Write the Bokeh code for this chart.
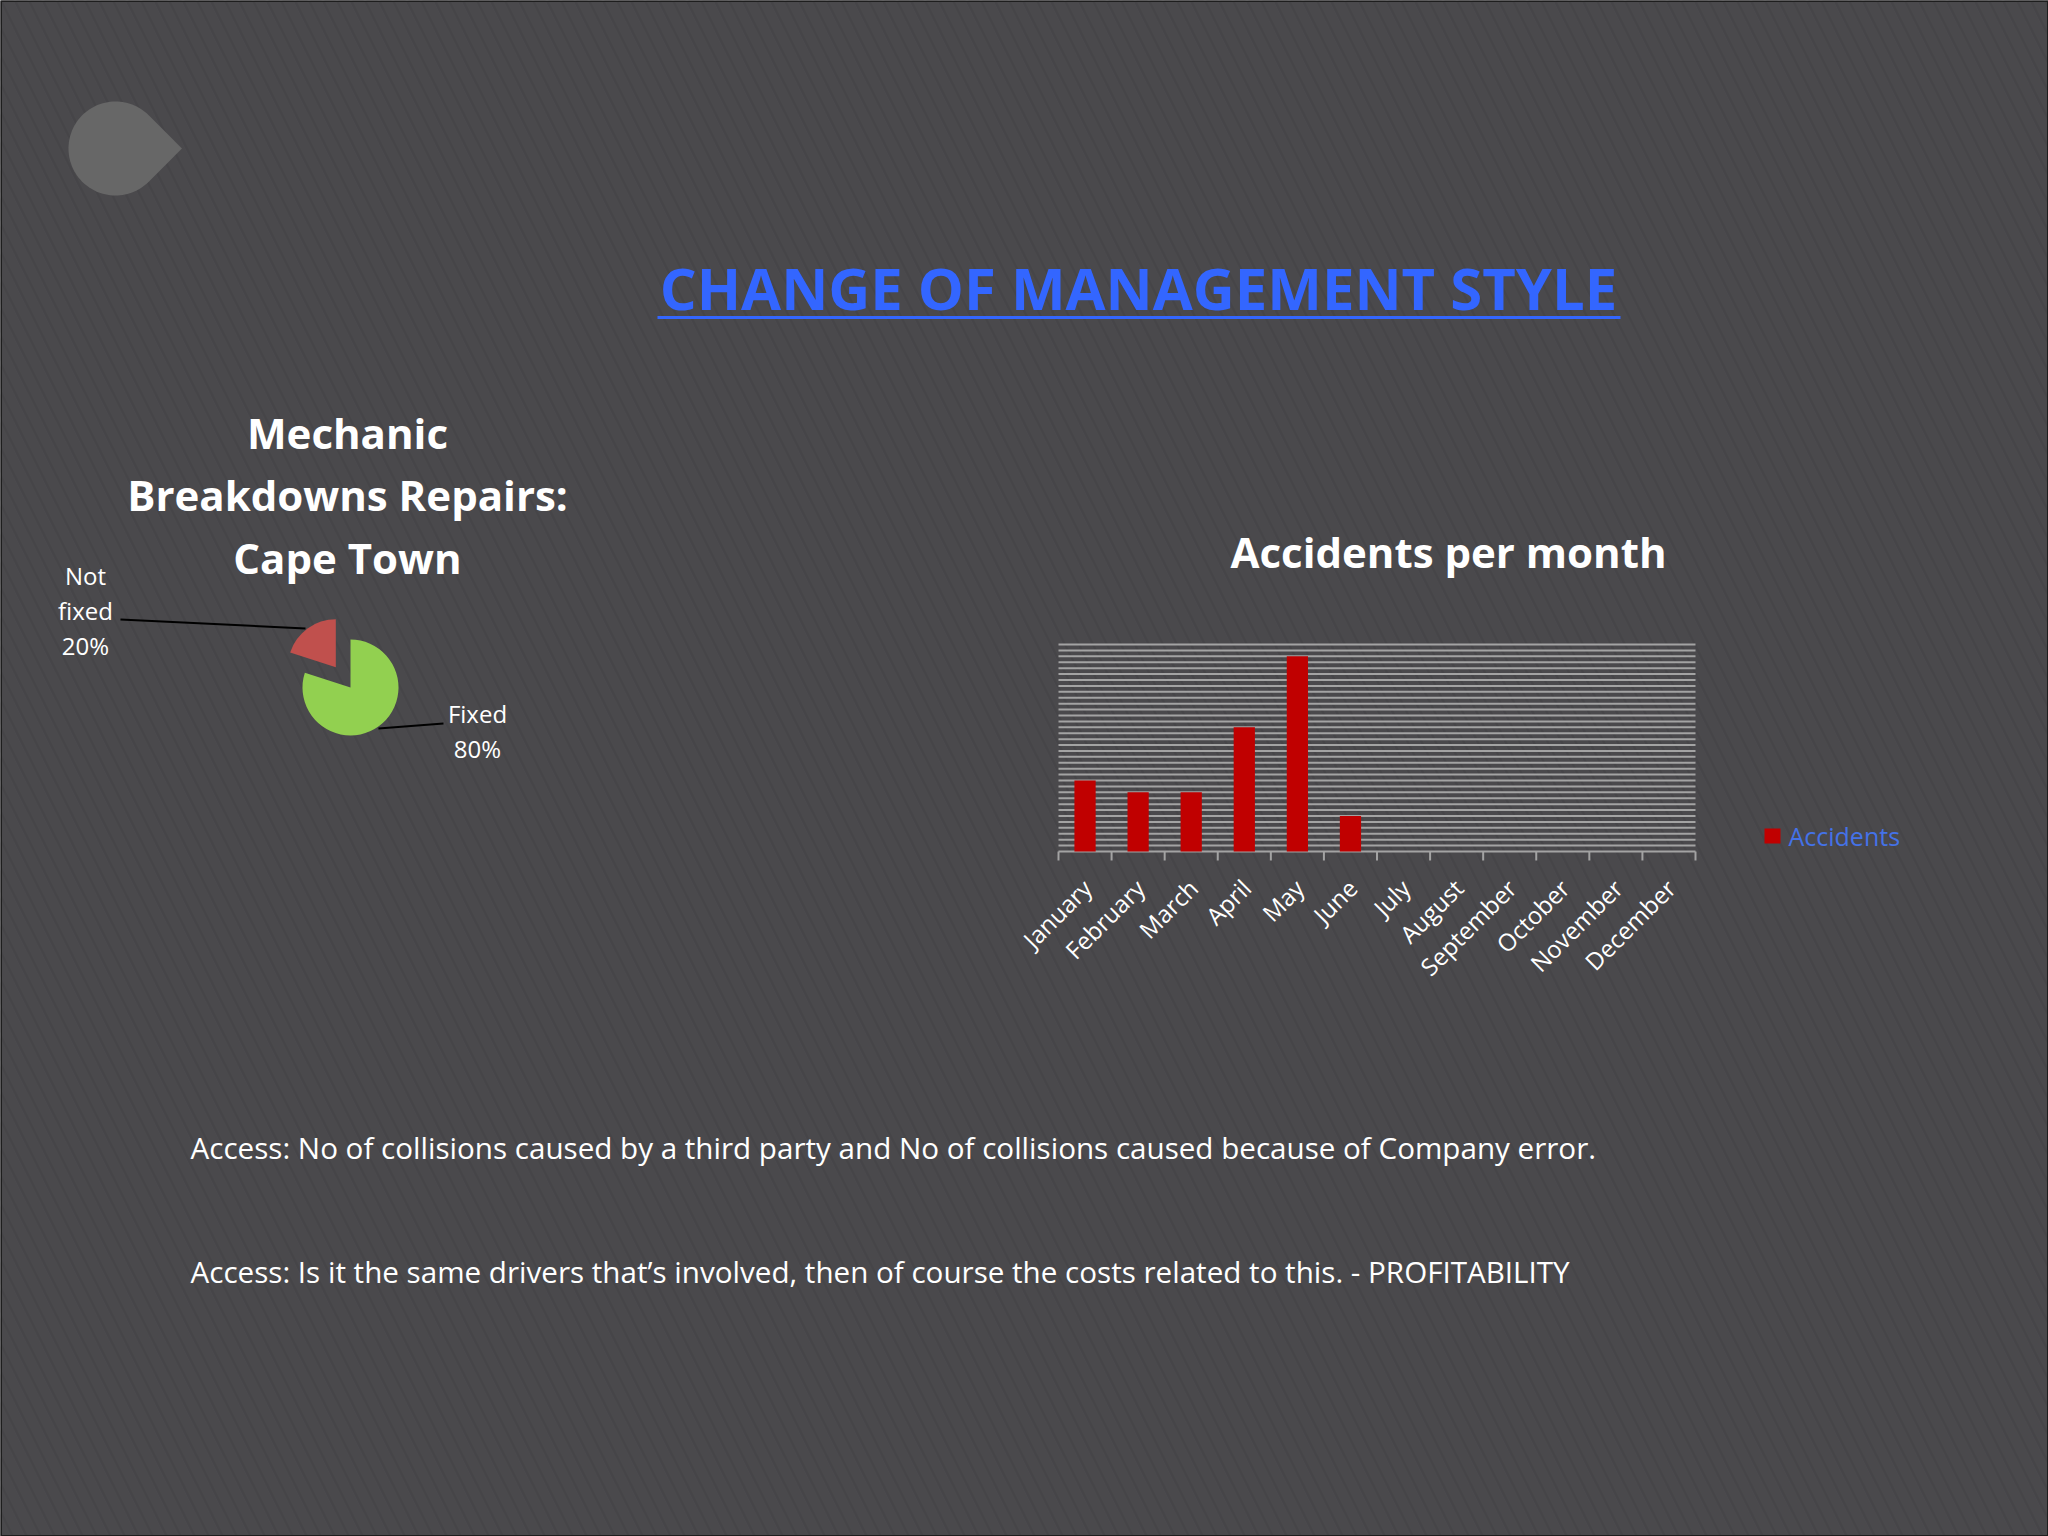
import math
import numpy as np
from bokeh.plotting import figure
from bokeh.models import Range1d
from bokeh.core.properties import value
from bokeh.embed import file_html
from bokeh.resources import INLINE

# ---------------- data ----------------
slide_title = "CHANGE OF MANAGEMENT STYLE"
pie_title_lines = ["Mechanic", "Breakdowns Repairs:", "Cape Town"]
pie_labels = ["Fixed", "Not fixed"]
pie_values = [80, 20]
pie_colors = ["#92d050", "#c0504d"]

bar_title = "Accidents per month"
series_name = "Accidents"
months = ["January", "February", "March", "April", "May", "June",
          "July", "August", "September", "October", "November", "December"]
accidents = [12, 10, 10, 21, 33, 6, 0, 0, 0, 0, 0, 0]
axis_max = 35
grid_step = 1

notes = [
    "Access: No of collisions caused by a third party and No of collisions caused because of Company error.",
    "Access: Is it the same drivers that\u2019s involved, then of course the costs related to this. - PROFITABILITY",
]

# ---------------- page geometry ----------------
W, H = 2048, 1536
FONT = value("Open Sans")
WHITE = "#ffffff"
BG = "#464548"


def X(rx):
    return rx


def Y(ry):
    return H - ry


def YB(baseline, fs):
    # place a middle-anchored text so that its baseline sits at `baseline`
    return Y(baseline - 0.42 * fs)


p = figure(width=W, height=H, x_range=Range1d(0, W), y_range=Range1d(0, H),
           x_axis_type=None, y_axis_type=None, toolbar_location=None,
           output_backend="svg", min_border=0)
p.outline_line_color = None
p.background_fill_color = BG
p.border_fill_color = BG

# subtle diagonal texture + dark frame
p.quad(left=[0], right=[W], bottom=[0], top=[H], fill_color=None,
       hatch_pattern="\\", hatch_color="#514f53", hatch_alpha=0.4,
       hatch_scale=28, hatch_weight=10, line_color="#1e1e1e", line_width=3)

# teardrop logo
cx, cy, r = X(115), Y(148), 47
th = np.linspace(np.pi / 4, 2 * np.pi - np.pi / 4, 90)
p.patch(list(cx + r * np.cos(th)) + [cx + r * math.sqrt(2)],
        list(cy + r * np.sin(th)) + [cy], fill_color="#676767", line_color=None)

# slide title
fs_t = 58
p.text(x=[X(1138)], y=[YB(311, fs_t)], text=[slide_title], text_align="center",
       text_baseline="middle", text_font=FONT, text_font_style="bold",
       text_font_size=f"{fs_t}px", text_color="#3366ff")
p.segment(x0=[X(657)], y0=[Y(317)], x1=[X(1620)], y1=[Y(317)],
          line_color="#3366ff", line_width=3)

# ---------------- pie ----------------
fs_h = 42
pie_baselines = [450, 512, 575]
p.text(x=[X(347)] * 3, y=[YB(b, fs_h) for b in pie_baselines], text=pie_title_lines,
       text_align="center", text_baseline="middle", text_font=FONT,
       text_font_style="bold", text_font_size=f"{fs_h}px", text_color=WHITE)

pcx, pcy, pr = X(350), Y(687), 48
total = float(sum(pie_values))
angles = [math.pi / 2]
for v in pie_values:
    angles.append(angles[-1] - 2 * math.pi * v / total)
starts, ends = angles[:-1], angles[1:]
explode = [0, 25]
mids = [(a + b) / 2 for a, b in zip(starts, ends)]
wx = [pcx + e * math.cos(m) for e, m in zip(explode, mids)]
wy = [pcy + e * math.sin(m) for e, m in zip(explode, mids)]
p.wedge(x=wx, y=wy, radius=pr, radius_units="screen", start_angle=starts,
        end_angle=ends, direction="clock", fill_color=pie_colors, line_color=None)

# leader lines
p.segment(x0=[X(378), X(305)], y0=[Y(728), Y(628)],
          x1=[X(443), X(120)], y1=[Y(723), Y(619)], line_color="#000000", line_width=2)

fs_l = 24
pcts = [f"{round(100 * v / total)}%" for v in pie_values]
fixed_lines = pie_labels[0].split() + [pcts[0]]
notfixed_lines = pie_labels[1].split() + [pcts[1]]
p.text(x=[X(477)] * len(fixed_lines),
       y=[YB(723 + 35 * i, fs_l) for i in range(len(fixed_lines))],
       text=fixed_lines, text_align="center", text_baseline="middle",
       text_font=FONT, text_font_size=f"{fs_l}px", text_color=WHITE)
p.text(x=[X(85)] * len(notfixed_lines),
       y=[YB(585 + 35 * i, fs_l) for i in range(len(notfixed_lines))],
       text=notfixed_lines, text_align="center", text_baseline="middle",
       text_font=FONT, text_font_size=f"{fs_l}px", text_color=WHITE)

# ---------------- bar chart ----------------
p.text(x=[X(1448)], y=[YB(569, fs_h)], text=[bar_title], text_align="center",
       text_baseline="middle", text_font=FONT, text_font_style="bold",
       text_font_size=f"{fs_h}px", text_color=WHITE)

n = len(months)
sx = (1695 - 1058) / n
mx0 = -X(1058) / sx
p.extra_x_ranges = {"mx": Range1d(mx0, mx0 + W / sx)}
sy = (851 - 644) / axis_max
my0 = -Y(851) / sy
p.extra_y_ranges = {"my": Range1d(my0, my0 + H / sy)}

levels = list(range(0, axis_max + 1, grid_step))
p.segment(x0=[0] * len(levels), x1=[n] * len(levels), y0=levels, y1=levels,
          x_range_name="mx", y_range_name="my", line_color="#a3a3a3", line_width=2)

centers = [i + 0.5 for i in range(n)]
p.vbar(x=centers, top=accidents, bottom=0, width=0.4, fill_color="#c00000",
       line_color=None, x_range_name="mx", y_range_name="my")

tick_len = 9 / sy
bounds = list(range(n + 1))
p.segment(x0=bounds, x1=bounds, y0=[0] * len(bounds), y1=[-tick_len] * len(bounds),
          x_range_name="mx", y_range_name="my", line_color="#a3a3a3", line_width=2)

p.text(x=centers, y=[0] * n, text=months, angle=math.pi / 4, text_align="right",
       text_baseline="middle", y_offset=32, x_offset=2, text_font=FONT,
       text_font_size="24px", text_color=WHITE, x_range_name="mx", y_range_name="my")

# legend
p.quad(left=[X(1764)], right=[X(1780)], top=[Y(828)], bottom=[Y(843)],
       fill_color="#c00000", line_color=None)
p.text(x=[X(1788)], y=[Y(835)], text=[series_name], text_align="left",
       text_baseline="middle", text_font=FONT, text_font_size="25px", text_color="#4472e8")

# ---------------- notes ----------------
fs_n = 29.6
p.text(x=[X(190)] * len(notes), y=[YB(1159, fs_n), YB(1283, fs_n)], text=notes,
       text_align="left", text_baseline="middle", text_font=FONT,
       text_font_size=f"{fs_n}px", text_color=WHITE)

open("out.html", "w").write(file_html(p, INLINE))
